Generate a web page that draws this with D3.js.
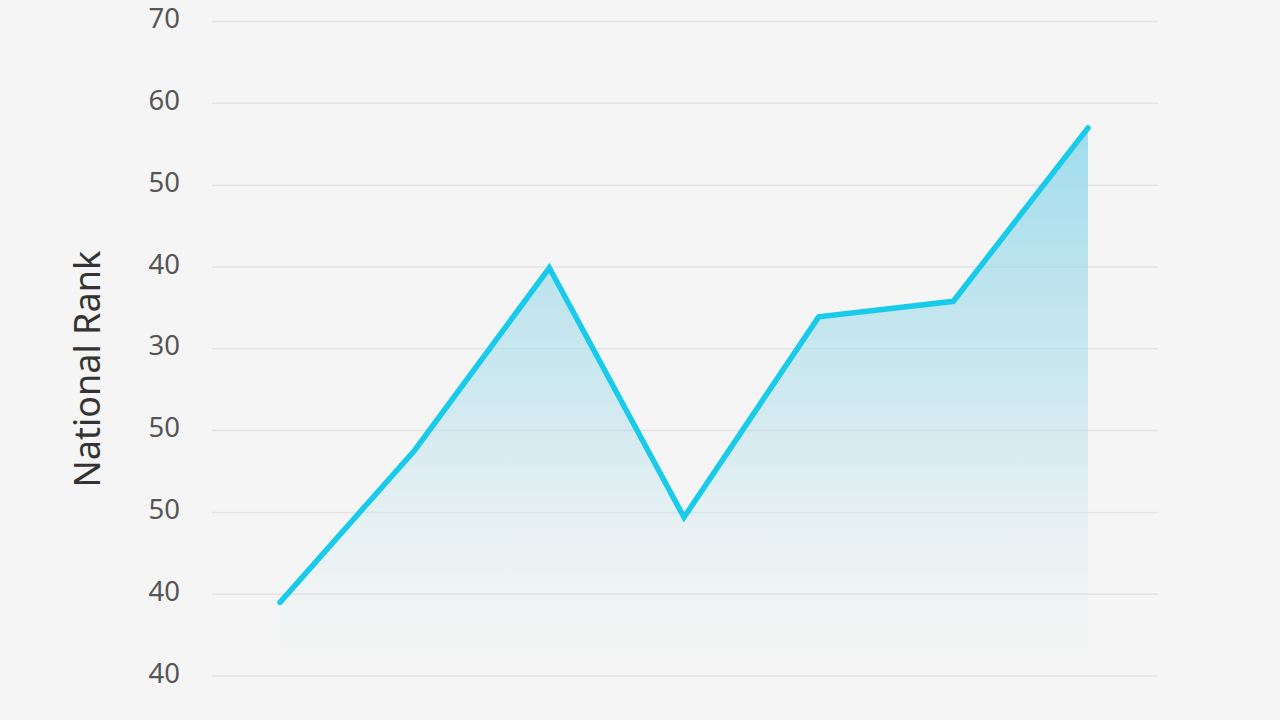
<!DOCTYPE html>
<html>
<head>
<meta charset="utf-8">
<script src="https://cdn.jsdelivr.net/npm/d3@7.9.0/dist/d3.min.js"></script>
<style>
  html, body { margin: 0; padding: 0; background: #f5f5f5; }
  svg { display: block; }
</style>
</head>
<body>
<svg width="1280" height="720"></svg>
<script>
// data (y in the chart's own grid units, 0 = bottom line)
const points = ["p1", "p2", "p3", "p4", "p5", "p6", "p7"];
const rankValues = [9.0, 27.6, 49.9, 19.4, 43.9, 45.8, 67.0];
const tickValues = [80, 70, 60, 50, 40, 30, 20, 10, 0];
const tickLabels = ["70", "60", "50", "40", "30", "50", "50", "40", "40"];

let svg = d3.select("svg");

let x = d3.scalePoint().domain(points).range([280, 1088]);
let y = d3.scaleLinear().domain([0, 80]).range([676, 21.5]);

// gradient for the area under the line
let defs = svg.append("defs");
let grad = defs.append("linearGradient")
    .attr("id", "fade")
    .attr("gradientUnits", "userSpaceOnUse")
    .attr("x1", 0).attr("x2", 0)
    .attr("y1", y(67)).attr("y2", y(2));
grad.append("stop").attr("offset", "0%").attr("stop-color", "#8ad6ea").attr("stop-opacity", 0.8);
grad.append("stop").attr("offset", "55%").attr("stop-color", "#a9dcea").attr("stop-opacity", 0.45);
grad.append("stop").attr("offset", "100%").attr("stop-color", "#d4edf3").attr("stop-opacity", 0);

// gridlines + tick labels
let grid = svg.append("g");
grid.selectAll("line")
    .data(tickValues)
    .enter()
    .append("line")
    .attr("x1", 212).attr("x2", 1158)
    .attr("y1", d => y(d)).attr("y2", d => y(d))
    .attr("stroke", "#e3e3e3")
    .attr("stroke-width", 1.5);

grid.selectAll("text")
    .data(tickValues)
    .enter()
    .append("text")
    .attr("x", 180)
    .attr("y", d => y(d) - 3)
    .attr("dy", "0.35em")
    .attr("text-anchor", "end")
    .attr("font-family", "'Noto Sans', 'Open Sans', sans-serif")
    .attr("font-size", 27.5)
    .attr("fill", "#555")
    .text((d, i) => tickLabels[i]);

// axis title
svg.append("text")
    .attr("transform", `translate(100, ${y(37.5)}) rotate(-90)`)
    .attr("text-anchor", "middle")
    .attr("font-family", "'Noto Sans', 'Open Sans', sans-serif")
    .attr("font-size", 36)
    .attr("fill", "#333")
    .text("National Rank");

// area
let area = d3.area()
    .x((d, i) => x(points[i]))
    .y0(y(0))
    .y1(d => y(d));

svg.append("path")
    .datum(rankValues)
    .attr("d", area)
    .attr("fill", "url(#fade)");

// line
let line = d3.line()
    .x((d, i) => x(points[i]))
    .y(d => y(d));

svg.append("path")
    .datum(rankValues)
    .attr("d", line)
    .attr("fill", "none")
    .attr("stroke", "#19cbea")
    .attr("stroke-width", 5.5)
    .attr("stroke-linejoin", "miter")
    .attr("stroke-linecap", "round");
</script>
</body>
</html>
